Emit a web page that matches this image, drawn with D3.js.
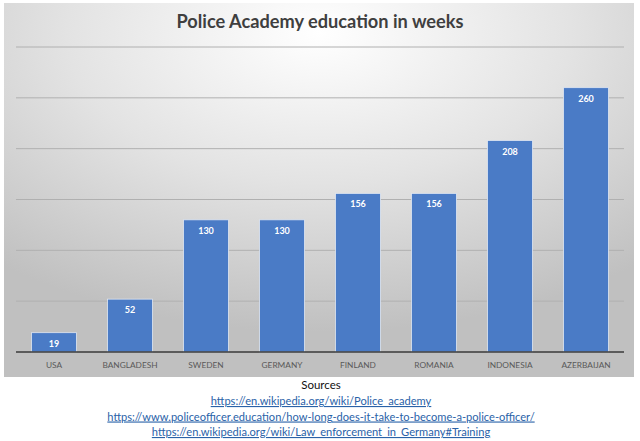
<!DOCTYPE html>
<html>
<head>
<meta charset="utf-8">
<script src="https://cdn.jsdelivr.net/npm/d3@7"></script>
<style>
  body { margin: 0; background: #fff; }
  svg { display: block; }
</style>
</head>
<body>
<div id="chart"></div>
<script>
// chart data
let countries = ['USA', 'BANGLADESH', 'SWEDEN', 'GERMANY', 'FINLAND', 'ROMANIA', 'INDONESIA', 'AZERBAIJAN']
let weeks = [19, 52, 130, 130, 156, 156, 208, 260]
let gridTicks = [0, 50, 100, 150, 200, 250, 300]
let sources = [
  'https://en.wikipedia.org/wiki/Police_academy ',
  'https://www.policeofficer.education/how-long-does-it-take-to-become-a-police-officer/',
  'https://en.wikipedia.org/wiki/Law_enforcement_in_Germany#Training'
]

let W = 640, H = 441
let plot = {left: 16, right: 624, top: 47, bottom: 352}

let svg = d3.select('div#chart')
  .append('svg')
    .attr('width', W)
    .attr('height', H)

let defs = svg.append('defs')
let grad = defs.append('radialGradient')
  .attr('id', 'bg')
  .attr('cx', 0.5).attr('cy', 0.08).attr('r', 0.8)
grad.append('stop').attr('offset', '0%').attr('stop-color', '#ffffff')
grad.append('stop').attr('offset', '50%').attr('stop-color', '#e3e3e3')
grad.append('stop').attr('offset', '100%').attr('stop-color', '#c0c0c0')

// chart area background
svg.append('rect')
  .attr('x', 4).attr('y', 3)
  .attr('width', 630).attr('height', 374)
  .attr('fill', 'url(#bg)')

let x = d3.scaleBand()
  .domain(countries)
  .range([plot.left, plot.right])
  .paddingInner(0.41)
  .paddingOuter(0.205)

let y = d3.scaleLinear()
  .domain([0, 300])
  .range([plot.bottom, plot.top])

// gridlines
svg.append('g')
  .selectAll('line')
  .data(gridTicks.slice(1))
  .enter().append('line')
  .attr('x1', plot.left)
  .attr('x2', plot.right)
  .attr('y1', d => y(d))
  .attr('y2', d => y(d))
  .attr('stroke', '#b0b0b0')
  .attr('stroke-width', 1)

let data = countries.map((c, i) => ({name: c, value: weeks[i]}))

svg.append('g')
  .selectAll('rect')
  .data(data)
  .enter().append('rect')
  .attr('x', d => x(d.name))
  .attr('y', d => y(d.value))
  .attr('width', x.bandwidth())
  .attr('height', d => y(0) - y(d.value))
  .attr('fill', '#4a7bc6')
  .attr('stroke', '#dfe6f2')
  .attr('stroke-width', 0.8)

// value labels
svg.append('g')
  .selectAll('text')
  .data(data)
  .enter().append('text')
  .attr('x', d => x(d.name) + x.bandwidth() / 2)
  .attr('y', d => y(d.value) + 14)
  .attr('text-anchor', 'middle')
  .attr('font-family', 'Lato, sans-serif')
  .attr('font-weight', 'bold')
  .attr('font-size', 9)
  .attr('fill', '#ffffff')
  .text(d => d.value)

// baseline + category axis
let xAxis = svg.append('g')
  .attr('transform', `translate(0, ${plot.bottom})`)
  .call(d3.axisBottom(x).tickSize(0).tickPadding(10))
xAxis.select('.domain')
  .attr('d', `M${plot.left},0H${plot.right}`)
  .attr('stroke', '#3a3a3a')
  .attr('stroke-width', 1.5)
xAxis.selectAll('text')
  .attr('font-family', 'Lato, sans-serif')
  .attr('font-size', 8.3)
  .attr('fill', '#595959')

svg.append('text')
  .attr('x', 320)
  .attr('y', 28)
  .attr('text-anchor', 'middle')
  .attr('font-family', 'Lato, sans-serif')
  .attr('font-weight', 'bold')
  .attr('font-size', 18.2)
  .attr('fill', '#3f3f3f')
  .text('Police Academy education in weeks')

// sources below the chart
svg.append('text')
  .attr('x', 321)
  .attr('y', 389)
  .attr('text-anchor', 'middle')
  .attr('font-family', 'Lato, sans-serif')
  .attr('font-size', 11.5)
  .attr('fill', '#111')
  .text('Sources')

svg.append('g')
  .selectAll('text')
  .data(sources)
  .enter().append('text')
  .attr('x', 321)
  .attr('y', (d, i) => 405 + i * 15.5)
  .attr('text-anchor', 'middle')
  .attr('font-family', 'Lato, sans-serif')
  .attr('font-size', 11.1)
  .attr('fill', '#2a62a8')
  .attr('text-decoration', 'underline')
  .text(d => d)
</script>
</body>
</html>
